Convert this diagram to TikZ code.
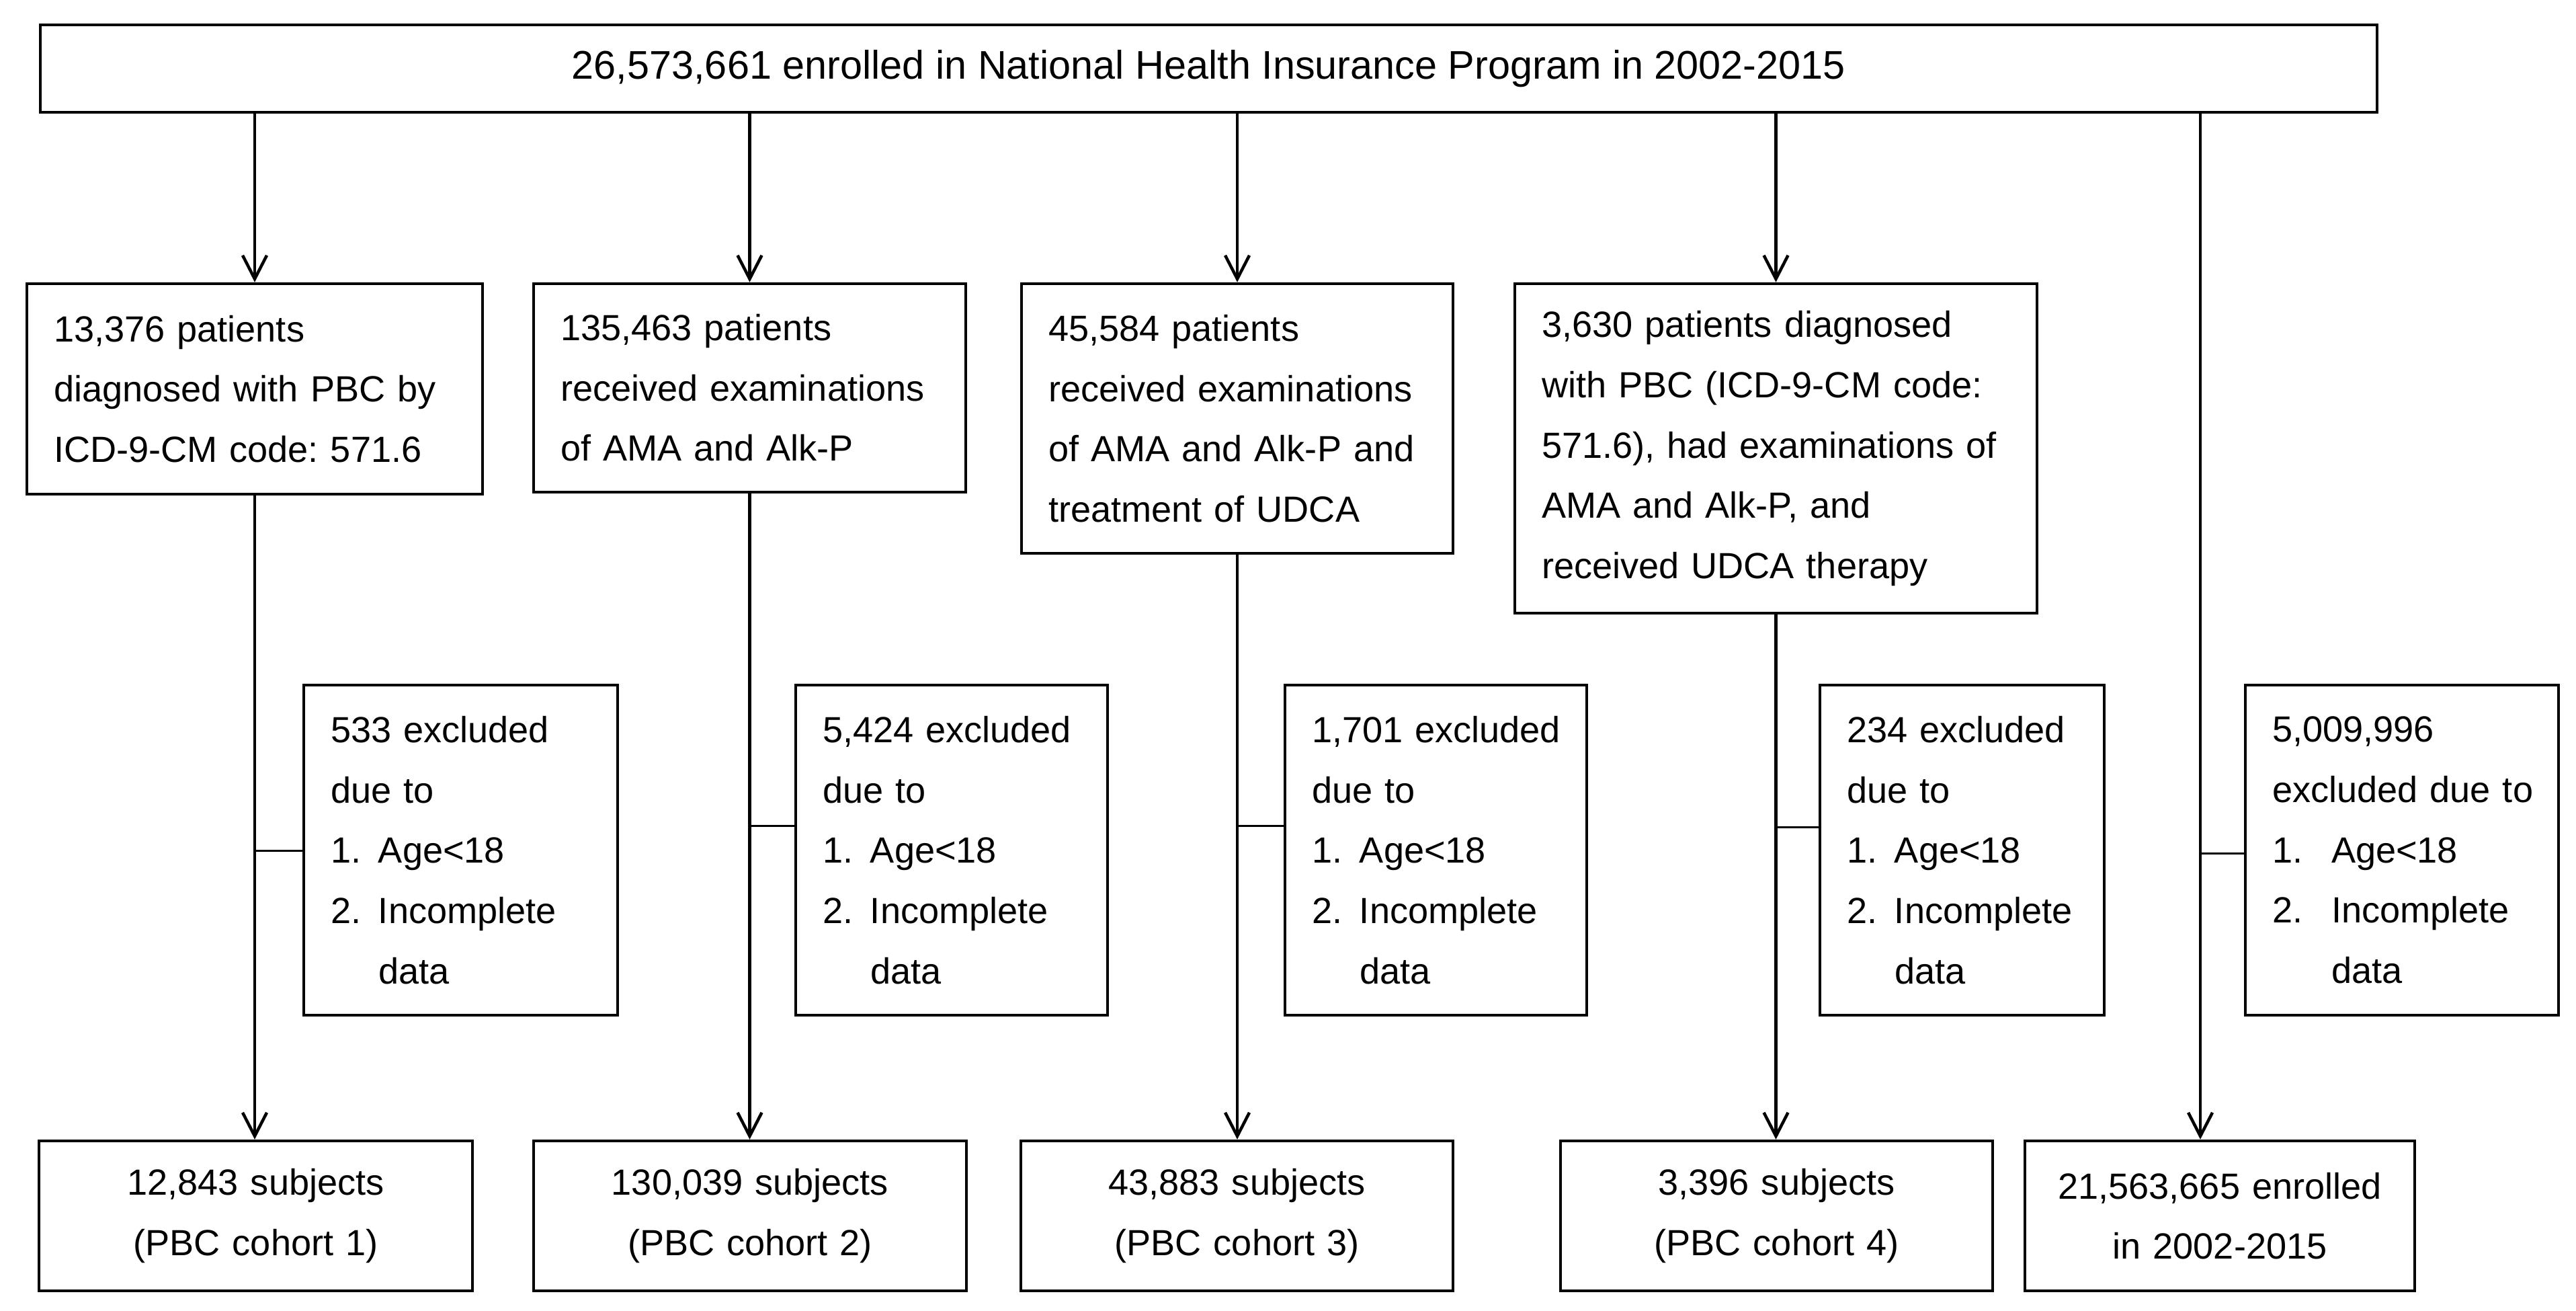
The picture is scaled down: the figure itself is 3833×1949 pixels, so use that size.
\documentclass[tikz,border=0pt]{standalone}
\usepackage{fontspec}
\setmainfont{Liberation Sans}
\usetikzlibrary{arrows.meta}
\newcommand\exitem[3]{\mbox{\makebox[#1][l]{#2}#3}}
\newcommand\oneline[1]{\mbox{#1}}
\frenchspacing
\begin{document}
\begin{tikzpicture}[x=0.1mm,y=-0.1mm,
  box/.style={draw, line width=0.45mm, inner xsep=4mm, inner ysep=0pt, align=left,
    font=\fontsize{15.4pt}{25.5pt}\selectfont},
  cbox/.style={box, align=center, minimum height=22.3mm},
  xbox/.style={box, minimum height=49.1mm},
  topbox/.style={draw, line width=0.45mm, inner sep=0pt, minimum width=347.7mm,
    minimum height=13mm, font=\fontsize{16.9pt}{20pt}\selectfont},
  arr/.style={line width=0.45mm, -{Straight Barb[length=3.5mm,width=3.6mm,line width=0.45mm]}},
  conn/.style={line width=0.3mm}]
\useasboundingbox (0,0) rectangle (3833,1949);

\node[topbox] (top) at (1798.5,102) {26,573,661 enrolled in National Health Insurance Program in 2002-2015};

\node[box, text width=59.8mm, minimum height=31.3mm] (b1) at (379,578.5)
  {\oneline{13,376 patients}\\\oneline{diagnosed with PBC by}\\\oneline{ICD-9-CM code: 571.6}};
\node[box, text width=56.3mm, minimum height=31.0mm] (b2) at (1115.5,577)
  {\oneline{135,463 patients}\\\oneline{received examinations}\\\oneline{of AMA and Alk-P}};
\node[box, text width=56.2mm, minimum height=40.1mm] (b3) at (1841,622.5)
  {\oneline{45,584 patients}\\\oneline{received examinations}\\\oneline{of AMA and Alk-P and}\\\oneline{treatment of UDCA}};
\node[box, text width=69.7mm, minimum height=49.0mm] (b4) at (2642.5,667)
  {\oneline{3,630 patients diagnosed}\\\oneline{with PBC (ICD-9-CM code:}\\\oneline{571.6), had examinations of}\\\oneline{AMA and Alk-P, and}\\\oneline{received UDCA therapy}};

\node[xbox, text width=38.7mm] (e1) at (685.5,1264.5)
  {\oneline{533 excluded}\\\oneline{due to}\\\exitem{7.1mm}{1.}{Age<18}\\\exitem{7.1mm}{2.}{Incomplete}\\\hspace*{7.1mm}data};
\node[xbox, text width=38.4mm] (e2) at (1416,1264.5)
  {\oneline{5,424 excluded}\\\oneline{due to}\\\exitem{7.1mm}{1.}{Age<18}\\\exitem{7.1mm}{2.}{Incomplete}\\\hspace*{7.1mm}data};
\node[xbox, text width=36.9mm] (e3) at (2136.5,1264.5)
  {\oneline{1,701 excluded}\\\oneline{due to}\\\exitem{7.1mm}{1.}{Age<18}\\\exitem{7.1mm}{2.}{Incomplete}\\\hspace*{7.1mm}data};
\node[xbox, text width=34.3mm] (e4) at (2919.5,1264.5)
  {\oneline{234 excluded}\\\oneline{due to}\\\exitem{7.1mm}{1.}{Age<18}\\\exitem{7.1mm}{2.}{Incomplete}\\\hspace*{7.1mm}data};
\node[xbox, text width=38.6mm] (e5) at (3574,1264.5)
  {\oneline{5,009,996}\\\oneline{excluded due to}\\\exitem{8.8mm}{1.}{Age<18}\\\exitem{8.8mm}{2.}{Incomplete}\\\hspace*{8.8mm}data};

\node[cbox, text width=56.5mm] (f1) at (380.5,1808.5) {\oneline{12,843 subjects}\\\oneline{(PBC cohort 1)}};
\node[cbox, text width=56.4mm] (f2) at (1116,1808.5) {\oneline{130,039 subjects}\\\oneline{(PBC cohort 2)}};
\node[cbox, text width=56.3mm] (f3) at (1840.5,1808.5) {\oneline{43,883 subjects}\\\oneline{(PBC cohort 3)}};
\node[cbox, text width=56.3mm] (f4) at (2643.5,1808.5) {\oneline{3,396 subjects}\\\oneline{(PBC cohort 4)}};
\node[cbox, text width=50.0mm] (f5) at (3303,1808.5) {\oneline{21,563,665 enrolled}\\\oneline{in 2002-2015}};

\coordinate (j1) at (b1.south |- 0,1265);
\coordinate (j2) at (b2.south |- 0,1228);
\coordinate (j3) at (b3.south |- 0,1228);
\coordinate (j4) at (b4.south |- 0,1230);
\coordinate (j5) at (3274,1269);

\foreach \i in {1,...,4} {
  \draw[arr] (top.south -| b\i.north) -- (b\i.north);
  \draw[arr] (b\i.south) -- (b\i.south |- f\i.north);
  \draw[conn] (j\i) -- (j\i -| e\i.west);
}
\draw[arr] (top.south -| j5) -- (f5.north -| j5);
\draw[conn] (j5) -- (j5 -| e5.west);
\end{tikzpicture}
\end{document}
